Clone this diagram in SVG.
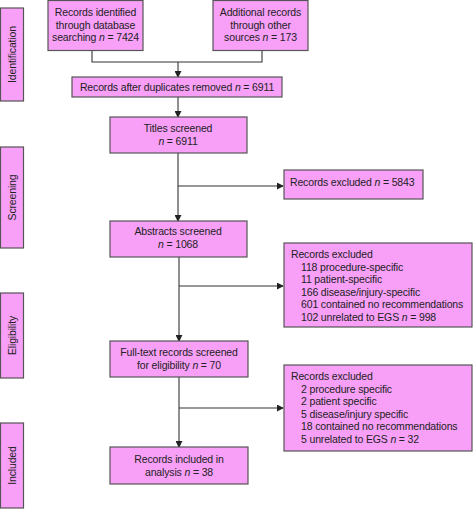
<svg xmlns="http://www.w3.org/2000/svg" width="474" height="509" viewBox="0 0 474 509">
<defs>
<style>
.box{fill:#f8a0f8;stroke:#555;stroke-width:1.2}
.t{font-family:"Liberation Sans",Arial,sans-serif;font-size:10.5px;letter-spacing:-0.15px;fill:#222}
.c{text-anchor:middle}
.line{stroke:#333;stroke-width:1.1;fill:none}
</style>
<marker id="ah" viewBox="0 0 8 8" refX="7" refY="4" markerWidth="7" markerHeight="7" markerUnits="userSpaceOnUse" orient="auto">
<path d="M0,0 L8,4 L0,8 z" fill="#222"/>
</marker>
</defs>
<rect width="474" height="509" fill="#fff"/>

<g id="stage-identification">
<rect class="box" x="0.5" y="8" width="23" height="93"/>
<text class="t c" transform="translate(15.5,54.5) rotate(-90)">Identification</text>
</g>
<g id="stage-screening">
<rect class="box" x="0.5" y="147" width="23" height="101"/>
<text class="t c" transform="translate(15.5,197.5) rotate(-90)">Screening</text>
</g>
<g id="stage-eligibility">
<rect class="box" x="0.5" y="293" width="23" height="85"/>
<text class="t c" transform="translate(15.5,335.5) rotate(-90)">Eligibility</text>
</g>
<g id="stage-included">
<rect class="box" x="0.5" y="423" width="23" height="85"/>
<text class="t c" transform="translate(15.5,465.5) rotate(-90)">Included</text>
</g>

<g id="connectors">
<path class="line" d="M92,50 V62 H262 V50"/>
<path class="line" d="M178,62 V77" marker-end="url(#ah)"/>
<path class="line" d="M178,97 V117" marker-end="url(#ah)"/>
<path class="line" d="M178,153 V221" marker-end="url(#ah)"/>
<path class="line" d="M178,186 H283" marker-end="url(#ah)"/>
<path class="line" d="M179,257 V341" marker-end="url(#ah)"/>
<path class="line" d="M179,286 H283" marker-end="url(#ah)"/>
<path class="line" d="M179,377 V447" marker-end="url(#ah)"/>
<path class="line" d="M179,408 H283" marker-end="url(#ah)"/>
</g>

<g id="db-search">
<rect class="box" x="48" y="0.5" width="95" height="50"/>
<text class="t c" x="95.5" y="16">Records identified</text>
<text class="t c" x="95.5" y="28.5">through database</text>
<text class="t c" x="95.5" y="41">searching <tspan font-style="italic">n</tspan> = 7424</text>
</g>
<g id="other-sources">
<rect class="box" x="213" y="0.5" width="95" height="50"/>
<text class="t c" x="260.5" y="16">Additional records</text>
<text class="t c" x="260.5" y="28.5">through other</text>
<text class="t c" x="260.5" y="41">sources <tspan font-style="italic">n</tspan> = 173</text>
</g>
<g id="dedup">
<rect class="box" x="72" y="77" width="210" height="20"/>
<text class="t c" x="177" y="91">Records after duplicates removed <tspan font-style="italic">n</tspan> = 6911</text>
</g>
<g id="titles">
<rect class="box" x="110" y="117" width="137" height="36"/>
<text class="t c" x="178" y="132">Titles screened</text>
<text class="t c" x="178" y="145"><tspan font-style="italic">n</tspan> = 6911</text>
</g>
<g id="excluded-1">
<rect class="box" x="284" y="170" width="139" height="29"/>
<text class="t" x="290" y="186">Records excluded <tspan font-style="italic">n</tspan> = 5843</text>
</g>
<g id="abstracts">
<rect class="box" x="110" y="221" width="137" height="36"/>
<text class="t c" x="178" y="235">Abstracts screened</text>
<text class="t c" x="178" y="248"><tspan font-style="italic">n</tspan> = 1068</text>
</g>
<g id="excluded-2">
<rect class="box" x="284" y="243" width="188" height="84"/>
<text class="t" x="291" y="258">Records excluded</text>
<text class="t" x="301" y="270.5">118 procedure-specific</text>
<text class="t" x="301" y="283">11 patient-specific</text>
<text class="t" x="301" y="295.5">166 disease/injury-specific</text>
<text class="t" x="301" y="308">601 contained no recommendations</text>
<text class="t" x="301" y="320.5">102 unrelated to EGS <tspan font-style="italic">n</tspan> = 998</text>
</g>
<g id="fulltext">
<rect class="box" x="110" y="341" width="138" height="36"/>
<text class="t c" x="179" y="356">Full-text records screened</text>
<text class="t c" x="179" y="368.5">for eligibility <tspan font-style="italic">n</tspan> = 70</text>
</g>
<g id="excluded-3">
<rect class="box" x="284" y="365" width="188" height="86"/>
<text class="t" x="291" y="380">Records excluded</text>
<text class="t" x="301" y="392.5">2 procedure specific</text>
<text class="t" x="301" y="405">2 patient specific</text>
<text class="t" x="301" y="417.5">5 disease/injury specific</text>
<text class="t" x="301" y="430">18 contained no recommendations</text>
<text class="t" x="301" y="442.5">5 unrelated to EGS <tspan font-style="italic">n</tspan> = 32</text>
</g>
<g id="included">
<rect class="box" x="110" y="447" width="138" height="37"/>
<text class="t c" x="179" y="463">Records included in</text>
<text class="t c" x="179" y="476">analysis <tspan font-style="italic">n</tspan> = 38</text>
</g>
</svg>
